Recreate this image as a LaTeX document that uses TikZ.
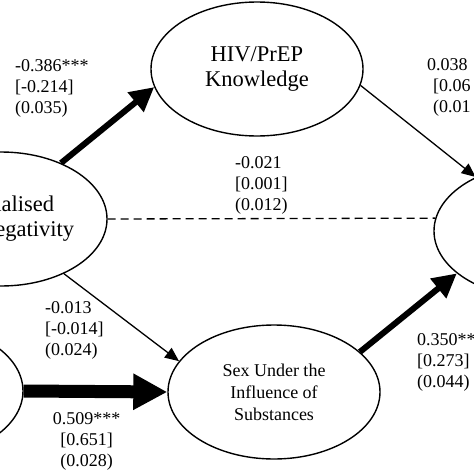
\documentclass[tikz,border=0pt]{standalone}
\usepackage{fontspec}
\setmainfont{Liberation Serif}
\usetikzlibrary{arrows.meta,shapes.geometric}

\begin{document}
\begin{tikzpicture}[x=1pt,y=-1pt,
  latent/.style={draw,ellipse,line width=1.4pt,minimum width=212pt,minimum height=134pt,inner sep=0pt,align=center,font=\fontsize{22.5}{25}\selectfont},
  coef/.style={inner sep=0pt,font=\fontsize{18}{21}\selectfont},
  weak/.style={line width=1.3pt,-{Triangle[length=14pt,width=12pt]}},
  strong/.style={line width=6pt,-{Triangle[length=24pt,width=24pt]}},
  strongest/.style={line width=13pt,-{Triangle[length=34pt,width=34pt]}}]
\useasboundingbox (0,0) rectangle (474,474);
\clip (0,0) rectangle (474,474);
% latent variables
\node[latent] (know) at (257,69) {HIV/PrEP\\Knowledge};
\node[latent] (neg) at (1,219) {Internalised\\Homonegativity};
\node[latent,font=\fontsize{18}{22}\selectfont] (sex) at (274,392) {Sex Under the\\Influence of\\Substances};
\node[latent] (outc) at (540,231) {};
\node[latent] (lower) at (-83,391) {};
% paths
\draw[strong] (neg.43) -- (know.190);
\draw[weak] (know.-9) -- (outc.140);
\draw[weak] (neg.-41) -- (sex.162);
\draw[strongest] (lower.east) -- (sex.west);
\draw[strong] (sex.25) -- (outc.207);
\draw[line width=1.3pt,dash pattern=on 8pt off 5pt] (neg.east) -- (outc.173.4);
% coefficients
\node[coef,anchor=west,align=left] (c1) at (15,88) {-0.386***\\{[}-0.214{]}\\(0.035)};
\node[coef,anchor=west,align=left] (c2) at (235,185) {-0.021\\{[}0.001{]}\\(0.012)};
\node[coef,anchor=west,align=left] (c3) at (427,87) {0.038\\\hspace*{6pt}{[}0.06\\\hspace*{6pt}(0.01};
\node[coef,anchor=west,align=left] (c4) at (45,330) {-0.013\\{[}-0.014{]}\\(0.024)};
\node[coef,align=center] (c5) at (86.5,441) {0.509***\\{[}0.651{]}\\(0.028)};
\node[coef,anchor=west,align=left] (c6) at (417,362) {0.350**\\{[}0.273{]}\\(0.044)};
\end{tikzpicture}
\end{document}
